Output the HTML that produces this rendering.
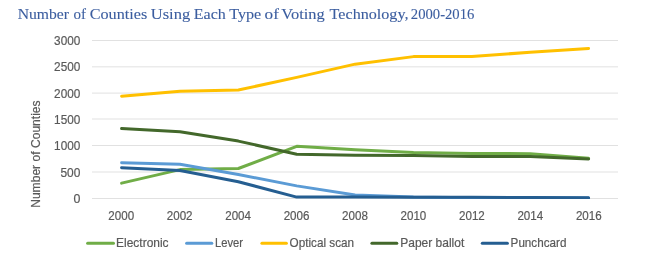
<!DOCTYPE html>
<html><head><meta charset="utf-8">
<style>
html,body{margin:0;padding:0;background:#fff;width:655px;height:261px;overflow:hidden}
svg{display:block;will-change:transform}
.t{font-family:"Liberation Serif",serif;fill:#3b5d9f;stroke:#3b5d9f;stroke-width:0.1px}
.a{font-family:"Liberation Sans",sans-serif;fill:#595959;stroke:#595959;stroke-width:0.2px;font-size:12.4px}
.g line{stroke:#e1e1e1;stroke-width:1}
.s polyline{fill:none;stroke-width:3;stroke-linejoin:round;stroke-linecap:round}
</style></head><body>
<svg width="655" height="261" viewBox="0 0 655 261">
<text class="t" x="17.7" y="18.7" font-size="14.2" textLength="51.3" lengthAdjust="spacingAndGlyphs">Number</text><text class="t" x="73.6" y="18.7" font-size="14.2" textLength="12.5" lengthAdjust="spacingAndGlyphs">of</text><text class="t" x="89.7" y="18.7" font-size="14.2" textLength="57.5" lengthAdjust="spacingAndGlyphs">Counties</text><text class="t" x="150.8" y="18.7" font-size="14.2" textLength="39.4" lengthAdjust="spacingAndGlyphs">Using</text><text class="t" x="193.8" y="18.7" font-size="14.2" textLength="32.1" lengthAdjust="spacingAndGlyphs">Each</text><text class="t" x="229.2" y="18.7" font-size="14.2" textLength="32.1" lengthAdjust="spacingAndGlyphs">Type</text><text class="t" x="264.6" y="18.7" font-size="14.2" textLength="14.3" lengthAdjust="spacingAndGlyphs">of</text><text class="t" x="281.2" y="18.7" font-size="14.2" textLength="43.5" lengthAdjust="spacingAndGlyphs">Voting</text><text class="t" x="329.6" y="18.7" font-size="14.2" textLength="78.9" lengthAdjust="spacingAndGlyphs">Technology,</text><text class="t" x="410.8" y="18.7" font-size="14.2" textLength="63.6" lengthAdjust="spacingAndGlyphs">2000-2016</text>
<g class="g"><line x1="92" x2="618" y1="198.50" y2="198.50"/><line x1="92" x2="618" y1="172.00" y2="172.00"/><line x1="92" x2="618" y1="145.50" y2="145.50"/><line x1="92" x2="618" y1="119.00" y2="119.00"/><line x1="92" x2="618" y1="93.10" y2="93.10"/><line x1="92" x2="618" y1="66.83" y2="66.83"/><line x1="92" x2="618" y1="40.50" y2="40.50"/></g>
<defs><clipPath id="pc"><rect x="0" y="0" width="655" height="199"/></clipPath></defs><g class="s" clip-path="url(#pc)">
<polyline points="121.60,183.12 179.97,169.59 238.35,168.48 296.73,146.36 355.10,149.73 413.48,152.52 471.85,153.47 530.23,153.63 588.60,158.37" stroke="#70ad47"/>
<polyline points="121.60,162.79 179.97,164.16 238.35,174.54 296.73,185.86 355.10,194.97 413.48,197.03 471.85,197.71 530.23,197.87 588.60,198.08" stroke="#5b9bd5"/>
<polyline points="121.60,96.22 179.97,91.22 238.35,90.01 296.73,77.37 355.10,64.15 413.48,56.62 471.85,56.62 530.23,52.19 588.60,48.51" stroke="#ffc000"/>
<polyline points="121.60,128.56 179.97,131.72 238.35,141.09 296.73,154.26 355.10,155.21 413.48,155.58 471.85,156.52 530.23,156.52 588.60,159.00" stroke="#43682b"/>
<polyline points="121.60,167.69 179.97,170.59 238.35,181.75 296.73,197.08 355.10,197.08 413.48,197.18 471.85,197.34 530.23,197.45 588.60,197.76" stroke="#255e91"/>
</g>
<g class="a"><text x="73.40" y="202.90" textLength="6.9" lengthAdjust="spacingAndGlyphs">0</text><text x="60.40" y="176.57" textLength="19.9" lengthAdjust="spacingAndGlyphs">500</text><text x="54.10" y="150.23" textLength="26.2" lengthAdjust="spacingAndGlyphs">1000</text><text x="54.10" y="123.90" textLength="26.2" lengthAdjust="spacingAndGlyphs">1500</text><text x="54.10" y="97.57" textLength="26.2" lengthAdjust="spacingAndGlyphs">2000</text><text x="54.10" y="71.23" textLength="26.2" lengthAdjust="spacingAndGlyphs">2500</text><text x="54.10" y="44.90" textLength="26.2" lengthAdjust="spacingAndGlyphs">3000</text><text x="108.32" y="219.6" textLength="25.8" lengthAdjust="spacingAndGlyphs">2000</text><text x="166.77" y="219.6" textLength="25.8" lengthAdjust="spacingAndGlyphs">2002</text><text x="225.21" y="219.6" textLength="25.8" lengthAdjust="spacingAndGlyphs">2004</text><text x="283.66" y="219.6" textLength="25.8" lengthAdjust="spacingAndGlyphs">2006</text><text x="342.10" y="219.6" textLength="25.8" lengthAdjust="spacingAndGlyphs">2008</text><text x="400.54" y="219.6" textLength="25.8" lengthAdjust="spacingAndGlyphs">2010</text><text x="458.99" y="219.6" textLength="25.8" lengthAdjust="spacingAndGlyphs">2012</text><text x="517.43" y="219.6" textLength="25.8" lengthAdjust="spacingAndGlyphs">2014</text><text x="575.88" y="219.6" textLength="25.8" lengthAdjust="spacingAndGlyphs">2016</text>
<text transform="translate(39.9,154.1) rotate(-90)" text-anchor="middle" textLength="107.5" lengthAdjust="spacingAndGlyphs">Number of Counties</text>
<line x1="87.6" x2="113.5" y1="243.3" y2="243.3" stroke="#70ad47" stroke-width="3" stroke-linecap="round"/><text x="116.1" y="246.8" textLength="52.5" lengthAdjust="spacingAndGlyphs">Electronic</text><line x1="186.6" x2="211.8" y1="243.3" y2="243.3" stroke="#5b9bd5" stroke-width="3" stroke-linecap="round"/><text x="215.0" y="246.8" textLength="28.0" lengthAdjust="spacingAndGlyphs">Lever</text><line x1="261.9" x2="286.4" y1="243.3" y2="243.3" stroke="#ffc000" stroke-width="3" stroke-linecap="round"/><text x="289.6" y="246.8" textLength="64.5" lengthAdjust="spacingAndGlyphs">Optical scan</text><line x1="371.9" x2="396.8" y1="243.3" y2="243.3" stroke="#43682b" stroke-width="3" stroke-linecap="round"/><text x="400.2" y="246.8" textLength="64.1" lengthAdjust="spacingAndGlyphs">Paper ballot</text><line x1="482.3" x2="507.4" y1="243.3" y2="243.3" stroke="#255e91" stroke-width="3" stroke-linecap="round"/><text x="510.6" y="246.8" textLength="55.8" lengthAdjust="spacingAndGlyphs">Punchcard</text></g>
</svg>
</body></html>
